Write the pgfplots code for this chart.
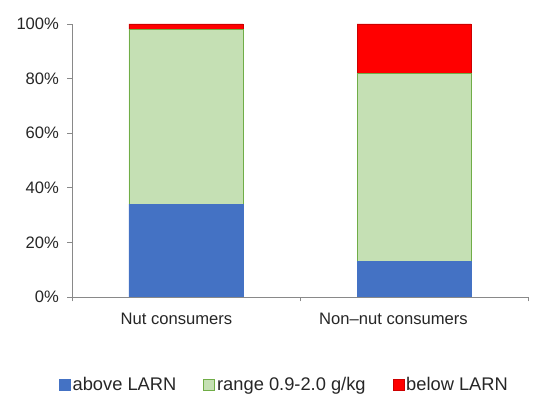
\documentclass[border=0pt]{standalone}
\usepackage{pgfplots}
\pgfplotsset{compat=1.18}
\usepackage{fontspec}
\setmainfont{Liberation Sans}
\definecolor{cblue}{HTML}{4472C4}
\definecolor{cgreen}{HTML}{C5E0B4}
\definecolor{cgreenline}{HTML}{70AD47}
\definecolor{cred}{HTML}{FF0000}
\definecolor{axgray}{HTML}{898989}
\definecolor{txt}{HTML}{262626}
\begin{document}
\begin{tikzpicture}
\path[use as bounding box] (-72pt,-104pt) rectangle (478pt,297pt);
\begin{axis}[
  at={(0pt,0pt)}, anchor=south west,
  scale only axis, width=456pt, height=273pt,
  xmin=-0.5, xmax=1.5, ymin=0, ymax=100,
  ybar stacked, bar width=0.5,
  axis x line=bottom, axis y line=left,
  axis line style={axgray, line width=0.8pt, -},
  tick style={axgray, line width=0.8pt},
  tick align=outside, major tick length=4.5pt,
  xtick={-0.5,0.5,1.5},
  xticklabels={{Nut consumers\kern19pt}, {Non–nut consumers\kern41pt}},
  x tick label as interval,
  ytick={0,20,40,60,80,100},
  yticklabels={0\%,20\%,40\%,60\%,80\%,100\%},
  tick label style={font=\fontsize{16.6}{19}\selectfont, text=txt},
  yticklabel style={xshift=-5pt},
  xticklabel style={yshift=-8pt},
  legend style={at={(0.466,-0.322)}, anchor=center, draw=none, fill=none,
    font=\fontsize{18.3}{21}\selectfont, text=txt, legend columns=3,
    /tikz/every even column/.append style={column sep=25pt}},
  legend image code/.code={\draw[#1] (0pt,-5.5pt) rectangle (11pt,5.5pt);},
  legend cell align=left,
]
\addplot[fill=cblue, draw=cblue, line width=0.5pt] coordinates {(0,34) (1,13)};
\addplot[fill=cgreen, draw=cgreenline, line width=0.8pt] coordinates {(0,64) (1,69)};
\addplot[fill=cred, draw=cred!80!black, line width=0.5pt] coordinates {(0,2) (1,18)};
\legend{above LARN, range 0.9-2.0 g/kg, below LARN}
\end{axis}
\end{tikzpicture}
\end{document}
